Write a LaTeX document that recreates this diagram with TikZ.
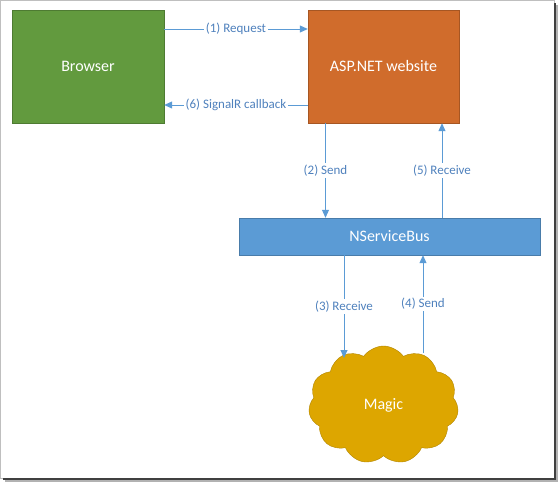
\documentclass[tikz,border=0pt]{standalone}
\usepackage{fontspec}
\setmainfont{Carlito}
\usetikzlibrary{arrows.meta,shapes.symbols}

\definecolor{browsergreen}{HTML}{629A3E}
\definecolor{asporange}{HTML}{D06C2C}
\definecolor{busblue}{HTML}{5B9BD5}
\definecolor{magicgold}{HTML}{DDA600}
\definecolor{flowblue}{HTML}{5B9BD5}
\definecolor{flowtext}{HTML}{4F81BD}

\tikzset{
  box/.style={draw=#1!80!black, fill=#1, text=white, inner sep=0pt,
    font=\fontsize{16}{19}\selectfont},
  flow/.style={draw=flowblue, line width=1pt, -{Triangle[length=8pt,width=7pt]}},
  lbl/.style={fill=white, text=flowtext, inner sep=1.5pt,
    font=\fontsize{13}{15}\selectfont}
}

\begin{document}
\begin{tikzpicture}[x=1pt,y=-1pt]
  \useasboundingbox (0,0) rectangle (558,482);
  % frame
  \draw[black!25] (0.5,0.5) rectangle (554,478);
  \fill[black!75] (554,3) rectangle (556,480);
  \fill[black!75] (3,478) rectangle (556,480);
  \fill[black!30] (556,5) rectangle (558,482);
  \fill[black!30] (5,480) rectangle (558,482);

  \draw
    (88,66.5) node[box=browsergreen, minimum width=152pt, minimum height=113pt] (browser) {Browser}
    (383.5,66.5) node[box=asporange, minimum width=151pt, minimum height=113pt] (asp) {ASP.NET website}
    (389.5,236.5) node[box=busblue, minimum width=301pt, minimum height=37pt] (bus) {NServiceBus}
    (383.5,405) node[box=magicgold, cloud, cloud puffs=11, cloud puff arc=110, aspect=1.3,
      minimum width=150pt, minimum height=118pt] (magic) {Magic};
  \coordinate (in3) at (344,358);
  \coordinate (out4) at (423,353);

  \begin{scope}[flow]
    \draw ([yshift=37.5pt]browser.east) -- node[lbl] {(1) Request} ([yshift=37.5pt]browser.east -| asp.west);
    \draw ([yshift=-38.5pt]asp.west) -- node[lbl] {(6) SignalR callback} ([yshift=-38.5pt]asp.west -| browser.east);
    \draw ([xshift=-58pt]asp.south) -- node[lbl] {(2) Send} ([xshift=-58pt]asp.south |- bus.north);
    \draw ([xshift=58.5pt]asp.south |- bus.north) -- node[lbl] {(5) Receive} ([xshift=58.5pt]asp.south);
    \draw (bus.south -| in3) -- node[lbl] {(3) Receive} (in3);
    \draw (out4) -- node[lbl] {(4) Send} (out4 |- bus.south);
  \end{scope}
\end{tikzpicture}
\end{document}
